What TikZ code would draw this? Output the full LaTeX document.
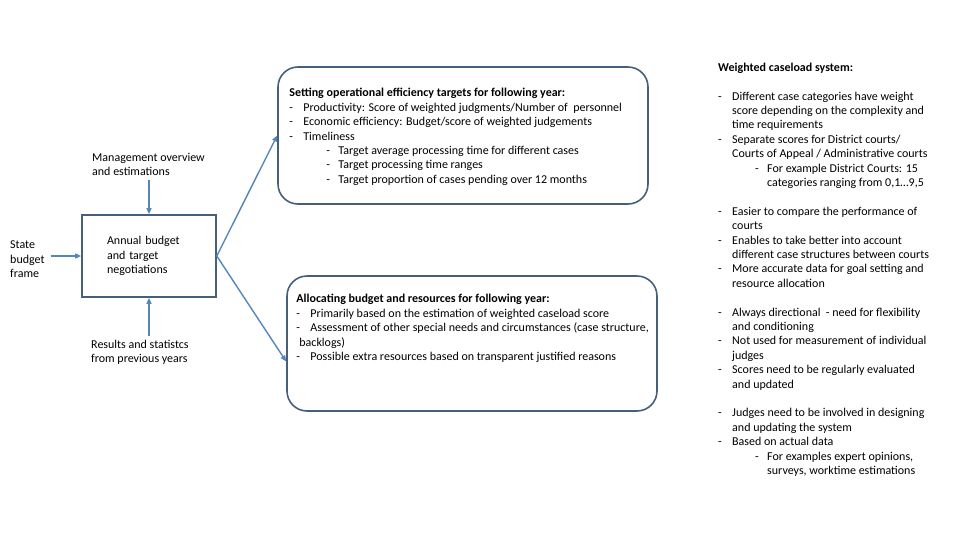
\documentclass[tikz,border=0pt]{standalone}
\usepackage{fontspec}
\setmainfont{Carlito}
\usepackage{xcolor}
\usetikzlibrary{arrows.meta, positioning}

\definecolor{boxline}{RGB}{70,95,122}
\definecolor{arrline}{RGB}{84,134,186}

% list helpers
\newcommand{\dsh}{\makebox[14pt][l]{-}}
\newcommand{\ind}{\hspace*{14pt}}
\newcommand{\subdsh}{\hspace*{37pt}\makebox[12pt][l]{-}}
\newcommand{\subind}{\hspace*{49pt}}

\begin{document}
\begin{tikzpicture}[x=1pt, y=-1pt,
                txt/.style={inner sep=0pt, align=left, anchor=north west, font=\fontsize{12}{14.4}\selectfont},
                panel/.style={draw=boxline, line width=1.6pt, rounded corners=20pt},
                arr/.style={draw=arrline, line width=1.4pt, -{Triangle[length=6pt, width=5pt]}}]
                \useasboundingbox (0,0) rectangle (960,540);

                % centre box and its inputs
                \node[draw=boxline, line width=1.6pt, minimum width=134pt, minimum height=82pt,
                      text width=84pt, inner xsep=25pt, align=left,
                      font=\fontsize{12}{14.4}\selectfont] (annual) at (149,256)
                      {\raisebox{2pt}{\parbox[b]{84pt}{Annual budget\\and target\\negotiations}}};
                \node[txt] (frame) at (10,241) {State\\budget\\frame};
                \node[txt] (mgmt) at (92,153) {Management overview\\and estimations};
                \node[txt] (results) at (91,340) {Results and statistcs\\from previous years};

                \draw[arr] ([xshift=6pt]frame.east |- annual.west) -- (annual.west);
                \draw[arr] ([yshift=-4pt]mgmt.south -| annual.north) -- (annual.north);
                \draw[arr] ([yshift=4pt]results.north -| annual.south) -- (annual.south);

                % the two rounded panels
                \node[panel, minimum width=370pt, minimum height=137pt] (targets) at (463,135.5) {};
                \node[txt] (targetstxt) at ([shift={(12,22)}]targets.north west)
                      {\textbf{Setting operational efficiency targets for following year:}\\
                       \dsh Productivity: Score of weighted judgments/Number of \ personnel\\
                       \dsh Economic efficiency: Budget/score of weighted judgements\\
                       \dsh Timeliness\\
                       \subdsh Target average processing time for different cases\\
                       \subdsh Target processing time ranges\\
                       \subdsh Target proportion of cases pending over 12 months};

                \node[panel, minimum width=370pt, minimum height=135pt] (alloc) at (472,343.5) {};
                \node[txt] (alloctxt) at ([shift={(10,19)}]alloc.north west)
                      {\textbf{Allocating budget and resources for following year:}\\
                       \dsh Primarily based on the estimation of weighted caseload score\\
                       \dsh Assessment of other special needs and circumstances (case structure,\\
                       \hspace*{3pt}backlogs)\\
                       \dsh Possible extra resources based on transparent justified reasons};

                \draw[arr] (annual.east) -- (targets.west);
                \draw[arr] (annual.east) -- ([yshift=-18pt]alloc.west);

                % right column
                \node[txt] (caseload) at (718,63)
                      {\textbf{Weighted caseload system:}\\[14pt]
                       \dsh Different case categories have weight\\
                       \ind score depending on the complexity and\\
                       \ind time requirements\\
                       \dsh Separate scores for District courts/\\
                       \ind Courts of Appeal / Administrative courts\\
                       \subdsh For example District Courts: 15\\
                       \subind categories ranging from 0,1\dots9,5\\[14.4pt]
                       \dsh Easier to compare the performance of\\
                       \ind courts\\
                       \dsh Enables to take better into account\\
                       \ind different case structures between courts\\
                       \dsh More accurate data for goal setting and\\
                       \ind resource allocation\\[14.4pt]
                       \dsh Always directional \ - need for flexibility\\
                       \ind and conditioning\\
                       \dsh Not used for measurement of individual\\
                       \ind judges\\
                       \dsh Scores need to be regularly evaluated\\
                       \ind and updated\\[14.4pt]
                       \dsh Judges need to be involved in designing\\
                       \ind and updating the system\\
                       \dsh Based on actual data\\
                       \subdsh For examples expert opinions,\\
                       \subind surveys, worktime estimations};
            \end{tikzpicture}
\end{document}
